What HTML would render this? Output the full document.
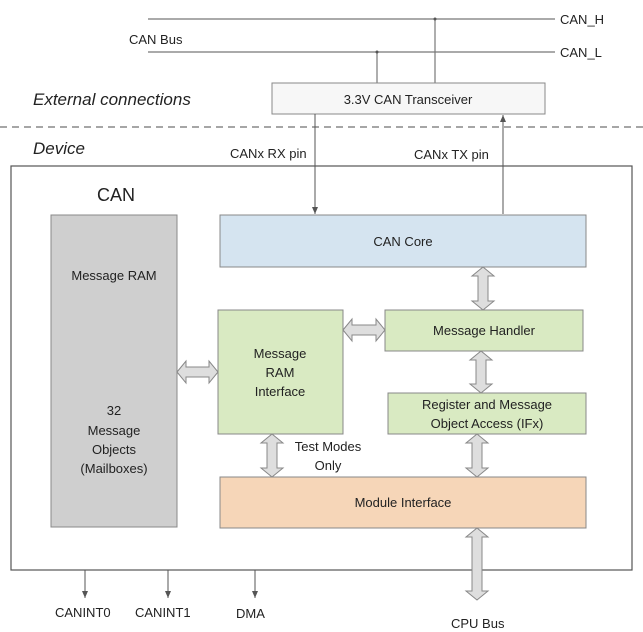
<!DOCTYPE html>
<html><head><meta charset="utf-8"><style>
html,body{margin:0;padding:0;background:#fff;}
svg{display:block;font-family:"Liberation Sans",sans-serif;}
</style></head><body>
<svg width="643" height="632" viewBox="0 0 643 632" xmlns="http://www.w3.org/2000/svg">
<defs>
<marker id="ah" markerWidth="8" markerHeight="8" refX="7" refY="4" orient="auto" markerUnits="userSpaceOnUse">
<path d="M0,1 L7,4 L0,7 Z" fill="#555"/></marker>
</defs>
<g stroke="#777" stroke-width="1.2" fill="none">
<line x1="148" y1="19" x2="555" y2="19"/>
<line x1="148" y1="52" x2="555" y2="52"/>
<line x1="435" y1="19" x2="435" y2="83"/>
<line x1="377" y1="52" x2="377" y2="83"/>
</g>
<circle cx="435" cy="19" r="1.5" fill="#555"/>
<circle cx="377" cy="52" r="1.5" fill="#555"/>
<g font-size="13" fill="#222">
<text x="560" y="24">CAN_H</text>
<text x="560" y="57">CAN_L</text>
<text x="129" y="44">CAN Bus</text>
</g>
<rect x="272" y="83" width="273" height="31" fill="#f7f7f7" stroke="#888"/>
<text x="408" y="104" font-size="13" text-anchor="middle" fill="#222">3.3V CAN Transceiver</text>
<line x1="0" y1="127" x2="643" y2="127" stroke="#888" stroke-width="1.5" stroke-dasharray="7,5"/>
<text x="33" y="105" font-size="17" font-style="italic" fill="#222">External connections</text>
<text x="33" y="154" font-size="17" font-style="italic" fill="#222">Device</text>
<text x="230" y="158" font-size="13" fill="#222">CANx RX pin</text>
<text x="414" y="159" font-size="13" fill="#222">CANx TX pin</text>
<rect x="11" y="166" width="621" height="404" fill="#fff" stroke="#555" stroke-width="1.2"/>
<line x1="315" y1="114" x2="315" y2="214" stroke="#555" marker-end="url(#ah)"/>
<line x1="503" y1="214" x2="503" y2="115" stroke="#555" marker-end="url(#ah)"/>
<text x="97" y="201" font-size="18" fill="#222">CAN</text>
<rect x="51" y="215" width="126" height="312" fill="#cfcfcf" stroke="#888"/>
<g font-size="13" fill="#222" text-anchor="middle">
<text x="114" y="280">Message RAM</text>
<text x="114" y="415">32</text>
<text x="114" y="435">Message</text>
<text x="114" y="454">Objects</text>
<text x="114" y="473">(Mailboxes)</text>
</g>
<rect x="220" y="215" width="366" height="52" fill="#d5e4f0" stroke="#888"/>
<text x="403" y="246" font-size="13" text-anchor="middle" fill="#222">CAN Core</text>
<rect x="385" y="310" width="198" height="41" fill="#d9eac2" stroke="#888"/>
<text x="484" y="335" font-size="13" text-anchor="middle" fill="#222">Message Handler</text>
<rect x="218" y="310" width="125" height="124" fill="#d9eac2" stroke="#888"/>
<g font-size="13" fill="#222" text-anchor="middle">
<text x="280" y="358">Message</text>
<text x="280" y="377">RAM</text>
<text x="280" y="396">Interface</text>
</g>
<rect x="388" y="393" width="198" height="41" fill="#d9eac2" stroke="#888"/>
<g font-size="13" fill="#222" text-anchor="middle">
<text x="487" y="409">Register and Message</text>
<text x="487" y="428">Object Access (IFx)</text>
</g>
<rect x="220" y="477" width="366" height="51" fill="#f6d6b8" stroke="#888"/>
<text x="403" y="507" font-size="13" text-anchor="middle" fill="#222">Module Interface</text>
<g font-size="13" fill="#222" text-anchor="middle">
<text x="328" y="451">Test Modes</text>
<text x="328" y="470">Only</text>
</g>
<g fill="#dedede" stroke="#888" stroke-width="1">
<polygon points="483,267 494,276 488,276 488,301 494,301 483,310 472,301 478,301 478,276 472,276"/>
<polygon points="481,351 492,360 486,360 486,384 492,384 481,393 470,384 476,384 476,360 470,360"/>
<polygon points="477,434 488,443 482,443 482,468 488,468 477,477 466,468 472,468 472,443 466,443"/>
<polygon points="272,434 283,443 277,443 277,468 283,468 272,477 261,468 267,468 267,443 261,443"/>
<polygon points="477,528 488,537 482,537 482,591 488,591 477,600 466,591 472,591 472,537 466,537"/>
<polygon points="343,330 352,319 352,325 376,325 376,319 385,330 376,341 376,335 352,335 352,341"/>
<polygon points="177,372 186,361 186,367 209,367 209,361 218,372 209,383 209,377 186,377 186,383"/>
</g>
<g stroke="#555">
<line x1="85" y1="570" x2="85" y2="598" marker-end="url(#ah)"/>
<line x1="168" y1="570" x2="168" y2="598" marker-end="url(#ah)"/>
<line x1="255" y1="570" x2="255" y2="598" marker-end="url(#ah)"/>
</g>
<g font-size="13" fill="#222">
<text x="55" y="617">CANINT0</text>
<text x="135" y="617">CANINT1</text>
<text x="236" y="618">DMA</text>
<text x="451" y="628">CPU Bus</text>
</g>
</svg>
</body></html>
